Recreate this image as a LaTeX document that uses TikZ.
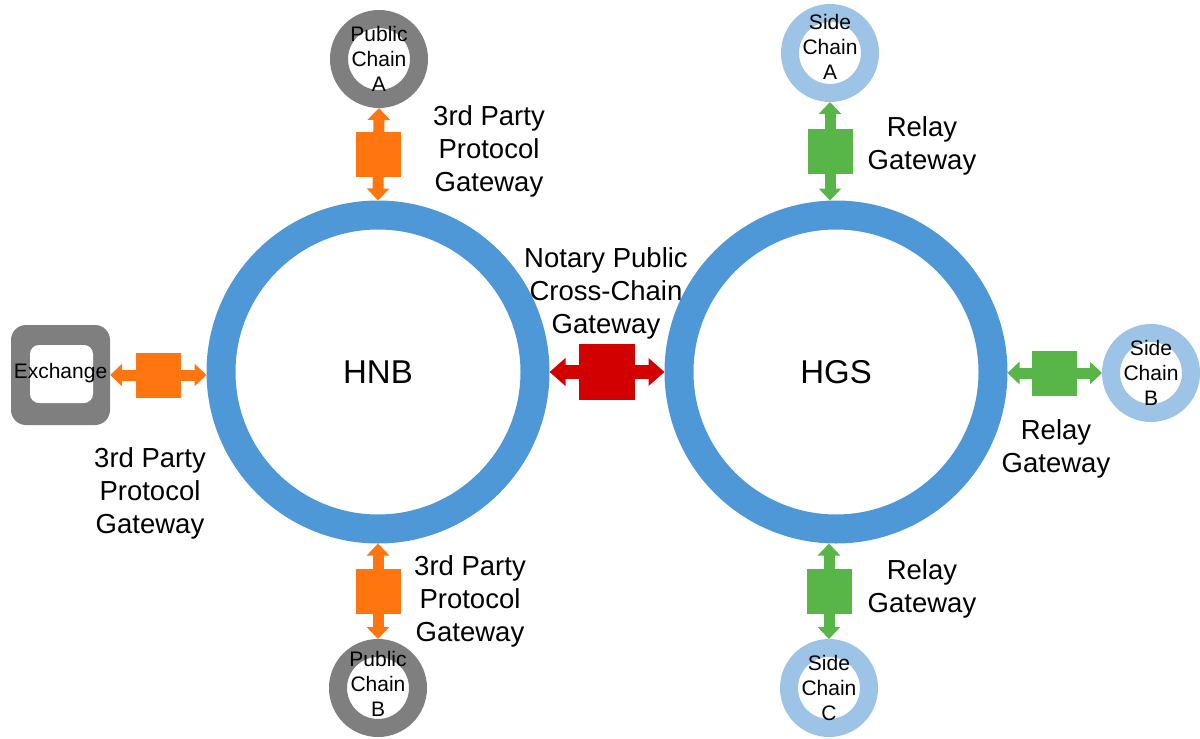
\documentclass[tikz,border=0pt]{standalone}
\usepackage{fontspec}
\setmainfont{Liberation Sans}
\usetikzlibrary{arrows.meta}
\definecolor{ringblue}{RGB}{79,152,216}
\definecolor{greyc}{RGB}{127,127,127}
\definecolor{lightblue}{RGB}{157,195,230}
\definecolor{orangec}{RGB}{255,118,17}
\definecolor{greenc}{RGB}{88,182,72}
\definecolor{redc}{RGB}{210,0,0}
\begin{document}
\begin{tikzpicture}[x=1pt,y=-1pt,
  bigring/.style={circle,draw=ringblue,line width=29pt,minimum size=314pt,inner sep=0pt,
    font=\fontsize{33}{36}\selectfont},
  chainring/.style={circle,line width=18pt,minimum size=80pt,inner sep=0pt},
  chaintext/.style={align=center,font=\fontsize{21}{25}\selectfont,inner sep=0pt},
  exchbox/.style={rectangle,fill=greyc,rounded corners=15pt,
    minimum width=99pt,minimum height=100pt,inner sep=0pt,
    path picture={\fill[white,rounded corners=9pt]
      ([xshift=-30.5pt,yshift=-28pt]path picture bounding box.center) rectangle
      ([xshift=32.5pt,yshift=30pt]path picture bounding box.center);}},
  gwarrow/.style={line width=11pt,{Triangle[width=22pt,length=12pt]}-{Triangle[width=22pt,length=12pt]}},
  redarrow/.style={line width=14pt,{Triangle[width=27pt,length=16pt]}-{Triangle[width=27pt,length=16pt]}},
  gwbox/.style={rectangle,inner sep=0pt,minimum width=45pt,minimum height=45pt},
  redbox/.style={rectangle,inner sep=0pt,minimum width=56pt,minimum height=56pt},
  gwlabel/.style={align=center,font=\fontsize{27.5}{33}\selectfont,inner sep=0pt}
]
\useasboundingbox (0,0) rectangle (1200,739);

% main rings
\node[bigring] (hnb) at (378,372) {HNB};
\node[bigring] (hgs) at (836,372) {HGS};

% chains
\node[chainring,draw=greyc,label={[chaintext]center:{Public\\Chain\\A}}] (pca) at (379,59) {};
\node[chainring,draw=greyc,label={[chaintext,yshift=4pt]center:{Public\\Chain\\B}}] (pcb) at (378,688) {};
\node[chainring,draw=lightblue,label={[chaintext,yshift=6pt]center:{Side\\Chain\\A}}] (sca) at (830,53) {};
\node[chainring,draw=lightblue,label={[chaintext]center:{Side\\Chain\\B}}] (scb) at (1151,373) {};
\node[chainring,draw=lightblue,label={[chaintext]center:{Side\\Chain\\C}}] (scc) at (829,688) {};
\node[exchbox,label={[chaintext,yshift=2pt]center:Exchange}] (exch) at (60.5,375) {};

% gateways
\draw[gwarrow,orangec] (pca.south) -- node[gwbox,fill=orangec] (g1) {} (hnb.north);
\draw[gwarrow,orangec] (hnb.south) -- node[gwbox,fill=orangec] (g2) {} (pcb.north);
\draw[gwarrow,orangec] (exch.east) -- node[gwbox,fill=orangec] (g3) {} (exch.east -| hnb.west);
\draw[redarrow,redc] (hnb.east) -- node[redbox,fill=redc] (g4) {} (hgs.west);
\draw[gwarrow,greenc] (sca.south) -- node[gwbox,fill=greenc] (g5) {} (sca.south |- hgs.north);
\draw[gwarrow,greenc] (hgs.east |- scb.west) -- node[gwbox,fill=greenc] (g6) {} (scb.west);
\draw[gwarrow,greenc] (scc.north |- hgs.south) -- node[gwbox,fill=greenc] (g7) {} (scc.north);

% labels
\node[gwlabel] (l1) at (489,151) {3rd Party\\Protocol\\Gateway};
\node[gwlabel] (l2) at (150,493) {3rd Party\\Protocol\\Gateway};
\node[gwlabel] (l3) at (470,601) {3rd Party\\Protocol\\Gateway};
\node[gwlabel] (l4) at (606,293) {Notary Public\\Cross-Chain\\Gateway};
\node[gwlabel] (l5) at (922,146) {Relay\\Gateway};
\node[gwlabel] (l6) at (1056,449) {Relay\\Gateway};
\node[gwlabel] (l7) at (922,589) {Relay\\Gateway};
\end{tikzpicture}
\end{document}
